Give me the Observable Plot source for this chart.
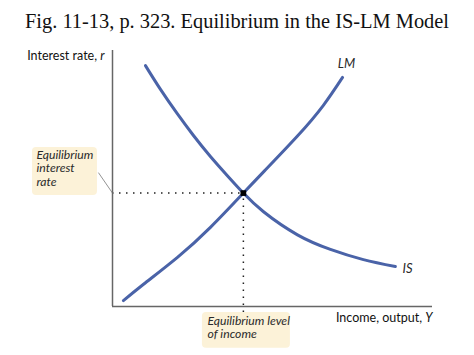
<!DOCTYPE html>
<html>
<head>
<meta charset="utf-8">
<script src="https://cdn.jsdelivr.net/npm/d3@7"></script>
<script src="https://cdn.jsdelivr.net/npm/@observablehq/plot@0.6"></script>
<style>
  body { margin: 0; background: #fff; }
  #title { height: 40px; line-height: 40px; padding-top: 1px; box-sizing: border-box; text-align: center;
           font-family: "Liberation Serif", "Times New Roman", serif; font-size: 20.4px; color: #111; white-space: nowrap; }
</style>
</head>
<body>
<div id="title"></div>
<div id="chart"></div>
<script>
const titleText = "Fig. 11-13, p. 323. Equilibrium in the IS-LM Model";

// IS curve (income vs interest rate)
const isX = [10.3, 15.0, 20.3, 25.3, 30.6, 35.9, 40.9, 47.2, 57.8, 68.1, 78.4, 88.4];
const isY = [94.1, 84.8, 75.2, 66.8, 58.6, 51.1, 44.3, 37.0, 28.0, 22.3, 18.3, 15.6];
// LM curve
const lmX = [3.4, 9.7, 20.3, 30.6, 40.9, 47.2, 57.8, 65.9, 71.9];
const lmY = [2.3, 8.7, 19.2, 30.9, 44.3, 52.6, 66.6, 78.6, 89.5];
// Equilibrium
const eqX = 40.9;
const eqY = 44.3;

const curveLabels = ["LM", "IS"];
const axisLabels = ["Interest rate, r", "Income, output, Y"];
const noteRate = "Equilibrium\ninterest\nrate";
const noteIncome = "Equilibrium level\nof income";

document.getElementById("title").textContent = titleText;

const isData = isX.map((x, i) => ({x, y: isY[i]}));
const lmData = lmX.map((x, i) => ({x, y: lmY[i]}));

const blue = "#4a63a8";
const boxFill = "#fcf2d8";
const txt = "#2a2a2a";

const chart = Plot.plot({
  width: 474,
  height: 315,
  marginLeft: 112,
  marginRight: 42,
  marginTop: 10,
  marginBottom: 49,
  x: {domain: [0, 100], axis: null},
  y: {domain: [0, 100], axis: null},
  style: {fontFamily: "Lato, 'Open Sans', sans-serif", fontSize: "12px", color: txt, background: "#fff", overflow: "visible"},
  marks: [
    // annotation boxes
    Plot.rect([{x1: -25, x2: -4.7, y1: 43.4, y2: 62.1}], {x1: "x1", x2: "x2", y1: "y1", y2: "y2", fill: boxFill, rx: 4}),
    Plot.rect([{x1: 28.1, x2: 55.6, y1: -16.3, y2: -2.3}], {x1: "x1", x2: "x2", y1: "y1", y2: "y2", fill: boxFill, rx: 4}),
    // leader line
    Plot.link([{x1: -4.4, y1: 52.3, x2: 0, y2: eqY}], {x1: "x1", y1: "y1", x2: "x2", y2: "y2", stroke: "#777", strokeWidth: 0.8}),
    // dotted guides
    Plot.ruleY([eqY], {x1: 0, x2: eqX, stroke: "#222", strokeWidth: 1.5, strokeDasharray: "1.5,5.5"}),
    Plot.ruleX([eqX], {y1: -2.3, y2: eqY, stroke: "#222", strokeWidth: 1.5, strokeDasharray: "1.5,5.5"}),
    // axes
    Plot.ruleX([0], {y1: 0, y2: 100, stroke: "#666", strokeWidth: 1.5}),
    Plot.ruleY([0], {x1: 0, x2: 100, stroke: "#666", strokeWidth: 1.5}),
    // curves
    Plot.line(isData, {x: "x", y: "y", curve: "natural", stroke: blue, strokeWidth: 3}),
    Plot.line(lmData, {x: "x", y: "y", curve: "natural", stroke: blue, strokeWidth: 3}),
    // equilibrium point
    Plot.dot([{x: eqX, y: eqY}], {x: "x", y: "y", symbol: "square", r: 3.2, fill: "#000"}),
    // curve labels
    Plot.text([{x: 73.1, y: 94.9, t: curveLabels[0]}, {x: 92.2, y: 14.8, t: curveLabels[1]}],
      {x: "x", y: "y", text: "t", fontStyle: "italic", fontSize: 13, fill: txt}),
    // axis labels
    Plot.text([{x: -2.5, y: 98, t: axisLabels[0]}], {x: "x", y: "y", text: "t", textAnchor: "end", fontSize: 12.5, fill: "#111"}),
    Plot.text([{x: 100, y: -4.3, t: axisLabels[1]}], {x: "x", y: "y", text: "t", textAnchor: "end", fontSize: 12.5, fill: "#111"}),
    // notes
    Plot.text([{x: -23.75, y: 61.5, t: noteRate}], {x: "x", y: "y", text: "t", textAnchor: "start", lineAnchor: "top", lineHeight: 1.12, fontStyle: "italic", fontSize: 12.2, fill: txt}),
    Plot.text([{x: 29.7, y: -3.3, t: noteIncome}], {x: "x", y: "y", text: "t", textAnchor: "start", lineAnchor: "top", lineHeight: 1.12, fontStyle: "italic", fontSize: 12.2, fill: txt})
  ]
});
document.getElementById("chart").appendChild(chart);

// italicise the variable letter at the end of each axis label
d3.select(chart).selectAll("text").each(function () {
  const el = d3.select(this);
  const s = el.text();
  if (axisLabels.includes(s)) {
    el.text(null);
    el.append("tspan").text(s.slice(0, -1));
    el.append("tspan").attr("font-style", "italic").text(s.slice(-1));
  }
});
</script>
</body>
</html>
